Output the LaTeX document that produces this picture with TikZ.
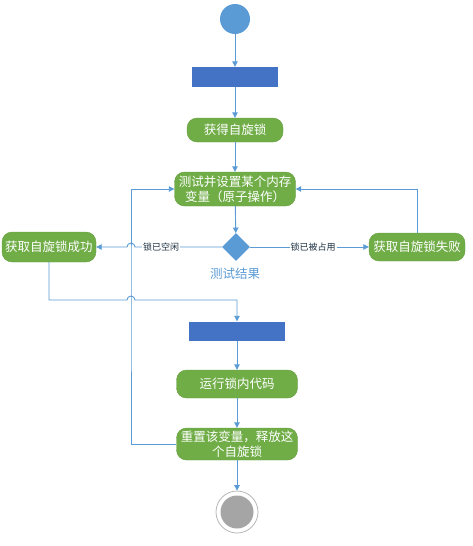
\documentclass[tikz,border=0pt]{standalone}
\usepackage{fontspec}
\setmainfont{Noto Sans CJK SC}
\usetikzlibrary{shapes.geometric,arrows.meta}
\definecolor{lineblue}{HTML}{5B9BD5}
\definecolor{barblue}{HTML}{4472C4}
\definecolor{actgreen}{HTML}{70AD47}
\definecolor{endgray}{HTML}{A5A5A5}
\tikzset{
  act/.style={rounded corners=10pt, fill=actgreen, draw=actgreen!90!black, text=white,
    align=center, inner sep=1pt, font=\fontsize{12.5}{15}\selectfont},
  bar/.style={fill=barblue, minimum height=20pt, inner sep=0pt},
  flow/.style={draw=lineblue, line width=0.9pt, -{Triangle[length=5.5pt,width=5.5pt]}},
  lbl/.style={fill=white, inner sep=1pt, text=black!70!lineblue, font=\fontsize{9}{10}\selectfont}
}
\begin{document}
\begin{tikzpicture}[x=1pt, y=-1pt]
\useasboundingbox (0,0) rectangle (473,546);
% nodes
\node[circle, fill=lineblue, minimum size=30pt, inner sep=0pt] (start) at (235,19) {};
\node[bar, minimum width=86pt] (fork) at (235,77) {};
\node[act, minimum width=96pt, minimum height=24pt] (acquire) at (235,130) {获得自旋锁};
\node[act, minimum width=121pt, minimum height=34pt] (testset) at (235,189) {测试并设置某个内存\\变量（原子操作）};
\node[diamond, fill=lineblue, minimum size=28pt, inner sep=0pt] (check) at (236,247) {};
\node[text=lineblue, font=\fontsize{12.5}{15}\selectfont] (checklbl) at (235,274) {测试结果};
\node[act, minimum width=94pt, minimum height=30pt] (success) at (49,247) {获取自旋锁成功};
\node[act, minimum width=96pt, minimum height=28pt] (failure) at (417,247) {获取自旋锁失败};
\node[bar, minimum width=96pt, minimum height=19pt] (join) at (237,331) {};
\node[act, minimum width=121pt, minimum height=28pt] (critical) at (237,384) {运行锁内代码};
\node[act, minimum width=121pt, minimum height=32pt] (release) at (237,444) {重置该变量，释放这\\个自旋锁};
\node[circle, draw=endgray!80, line width=0.8pt, fill=white, minimum size=42pt, inner sep=0pt] (stop) at (237,512) {};
\node[circle, fill=endgray, minimum size=33pt, inner sep=0pt] at (stop) {};
% hop points
\coordinate (hopA) at (135,247);
\coordinate (hopB) at (127,300);
\coordinate (loopx) at (131,300);
% connectors
\draw[flow] (start) -- (fork);
\draw[flow] (fork) -- (acquire);
\draw[flow] (acquire) -- (testset);
\draw[flow] (testset) -- (check);
\draw[flow] (check.west) -- node[lbl, pos=0.7]{锁已空闲} (hopA)
  arc[start angle=0, end angle=180, radius=4pt] -- (success.east);
\draw[flow] (check.east) -- node[lbl, pos=0.53]{锁已被占用} (failure.west);
\draw[flow] (failure.north) |- (testset.east);
\draw[flow] (success.south) |- (hopB)
  arc[start angle=180, end angle=0, radius=4pt] -| (join.north);
\draw[flow] (join) -- (critical);
\draw[flow] (critical) -- (release);
\draw[flow] (release) -- (stop);
\draw[flow] (release.west) -| (loopx) |- (testset.west);
\end{tikzpicture}
\end{document}
